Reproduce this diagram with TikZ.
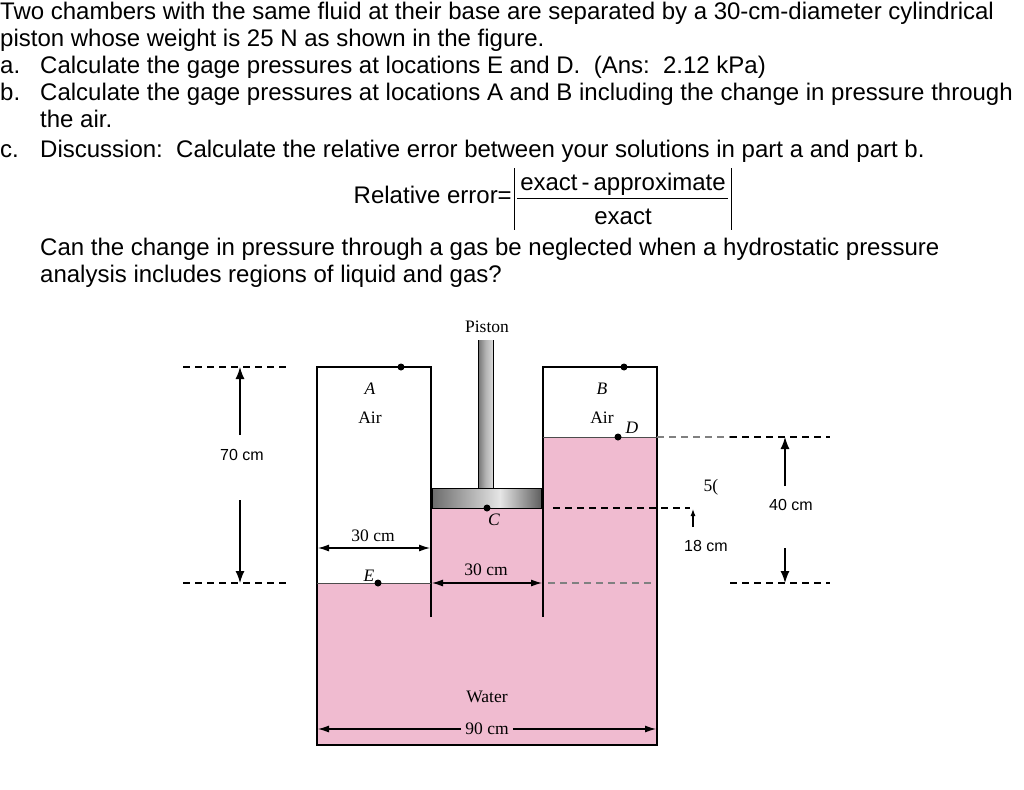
\documentclass[tikz,border=0pt]{standalone}
\usepackage{fontspec}
\setmainfont{Liberation Sans}
\newfontfamily\tms{Liberation Serif}
\usetikzlibrary{arrows.meta}
\definecolor{water}{RGB}{240,187,208}
\begin{document}
\begin{tikzpicture}[x=1pt,y=-1pt,
  q/.style={anchor=base west,inner sep=0,font=\fontsize{24}{28}\selectfont},
  lab/.style={inner sep=0,font=\tms\fontsize{17.5}{20}\selectfont},
  it/.style={inner sep=0,font=\tms\itshape\fontsize{17.5}{20}\selectfont},
  sl/.style={inner sep=0,font=\fontsize{16}{19}\selectfont},
  wall/.style={line width=2.2pt},
  dim/.style={line width=1.3pt,-{Latex[length=12pt,width=9pt]}},
  dimb/.style={line width=1.1pt,{Latex[length=11pt,width=7pt]}-{Latex[length=11pt,width=7pt]}},
  dsh/.style={dashed,dash pattern=on 7pt off 5pt,line width=1.1pt},
  dot/.style={circle,fill=black,inner sep=0,minimum size=7pt}]
\useasboundingbox (0,0) rectangle (1024,789);
% text
\node[q] (t1) at (0,20) {Two chambers with the same fluid at their base are separated by a 30-cm-diameter cylindrical};
\node[q] (t2) at (0,47) {piston whose weight is 25 N as shown in the figure.};
\node[q] (t3a) at (0,74) {a.};
\node[q] (t3) at (40,74) {Calculate the gage pressures at locations E and D.\ \ (Ans:\ \ 2.12 kPa)};
\node[q] (t4a) at (0,101) {b.};
\node[q] (t4) at (40,101) {Calculate the gage pressures at locations A and B including the change in pressure through};
\node[q] (t5) at (40,128) {the air.};
\node[q] (t6a) at (0,157) {c.};
\node[q] (t6) at (40,157) {Discussion:\ \ Calculate the relative error between your solutions in part a and part b.};
\node[q,anchor=base east] (re) at (512,203) {Relative error=};
\node[q,anchor=base] (num) at (623,190) {exact\,-\,approximate};
\node[q,anchor=base] (den) at (623,224) {exact};
\draw[line width=0.8pt] (514,168) -- (514,230) (731,168) -- (731,230) (517,198) -- (728,198);
\node[q] (t7) at (40,255) {Can the change in pressure through a gas be neglected when a hydrostatic pressure};
\node[q] (t8) at (40,282) {analysis includes regions of liquid and gas?};
% water
\fill[water] (317,583) rectangle (431,745);
\fill[water] (431,508) rectangle (543,745);
\fill[water] (543,437) rectangle (657,745);
% piston
\shade[left color=gray!90!black,right color=gray!30,middle color=gray!60] (478,340) rectangle (493,488);
\draw[line width=0.6pt] (478,340) -- (478,488) (493,340) -- (493,488);
\shade[left color=gray!85!black,right color=gray!20] (432,488) rectangle (500,508);
\shade[left color=gray!20,right color=gray!75!black] (500,488) rectangle (541,508);
\draw[line width=1pt] (432,488) rectangle (541,508);
% walls
\draw[wall] (431,617) -- (431,367) -- (317,367) -- (317,745) -- (657,745) -- (657,367) -- (543,367) -- (543,617);
\draw[line width=0.8pt,black!70] (317,583) -- (431,583) (543,437) -- (657,437);
% dashed
\draw[dsh] (183,367) -- (290,367) (183,583) -- (290,583);
\draw[dsh,gray] (657,437) -- (730,437);
\draw[dsh] (730,437) -- (830,437) (730,583) -- (830,583);
\draw[dsh] (553,508) -- (690,508);
\draw[dsh,gray] (548,583) -- (655,583);
% labels
\node[lab] (pis) at (487,327) {Piston};
\node[it] (A) at (370,389) {A};
\node[lab] (air1) at (370,418) {Air};
\node[it] (B) at (602,389) {B};
\node[lab] (air2) at (602,418) {Air};
\node[it] (D) at (632,428) {D};
\node[it] (C) at (494,520) {C};
\node[it] (E) at (369,576) {E};
\node[dot] (dA) at (401,367) {};
\node[dot] (dB) at (624,367) {};
\node[dot] (dD) at (618,437) {};
\node[dot] (dE) at (378,583) {};
\node[dot] (dC) at (487,508) {};
\node[lab] (w) at (487,697) {Water};
\node[lab,fill=water,inner xsep=4pt] (n90) at (487,729) {90 cm};
\coordinate (l90) at (318,729);
\coordinate (r90) at (656,729);
\draw[dimb,-{Latex[length=11pt,width=7pt]}] (n90) -- (l90);
\draw[dimb,-{Latex[length=11pt,width=7pt]}] (n90) -- (r90);
\node[lab] (n30a) at (373,536) {30 cm};
\coordinate (a1) at (318,548); \coordinate (a2) at (430,548);
\draw[dimb] (a1) -- (a2);
\node[lab] (n30b) at (486,570) {30 cm};
\coordinate (b1) at (432,583); \coordinate (b2) at (542,583);
\draw[dimb] (b1) -- (b2);
% 70 cm
\node[sl] (n70) at (242,455) {70 cm};
\coordinate (s70t) at (240,367); \coordinate (s70b) at (240,583);
\coordinate (m70t) at (240,435); \coordinate (m70b) at (240,500);
\draw[dim] (m70t) -- (s70t);
\draw[dim] (m70b) -- (s70b);
% 40 cm
\node[sl] (n40) at (791,505) {40 cm};
\coordinate (s40t) at (785,437); \coordinate (s40b) at (785,583);
\coordinate (m40t) at (785,486); \coordinate (m40b) at (785,548);
\draw[dim] (m40t) -- (s40t);
\draw[dim] (m40b) -- (s40b);
% 18 cm
\node[sl] (n18) at (706,546) {18 cm};
\coordinate (s18a) at (693,527); \coordinate (s18b) at (693,509);
\draw[line width=1.1pt,-{Latex[length=7pt,width=5pt]}] (s18a) -- (s18b);
\node[lab] (n50) at (711,487) {5(};
\end{tikzpicture}
\end{document}
